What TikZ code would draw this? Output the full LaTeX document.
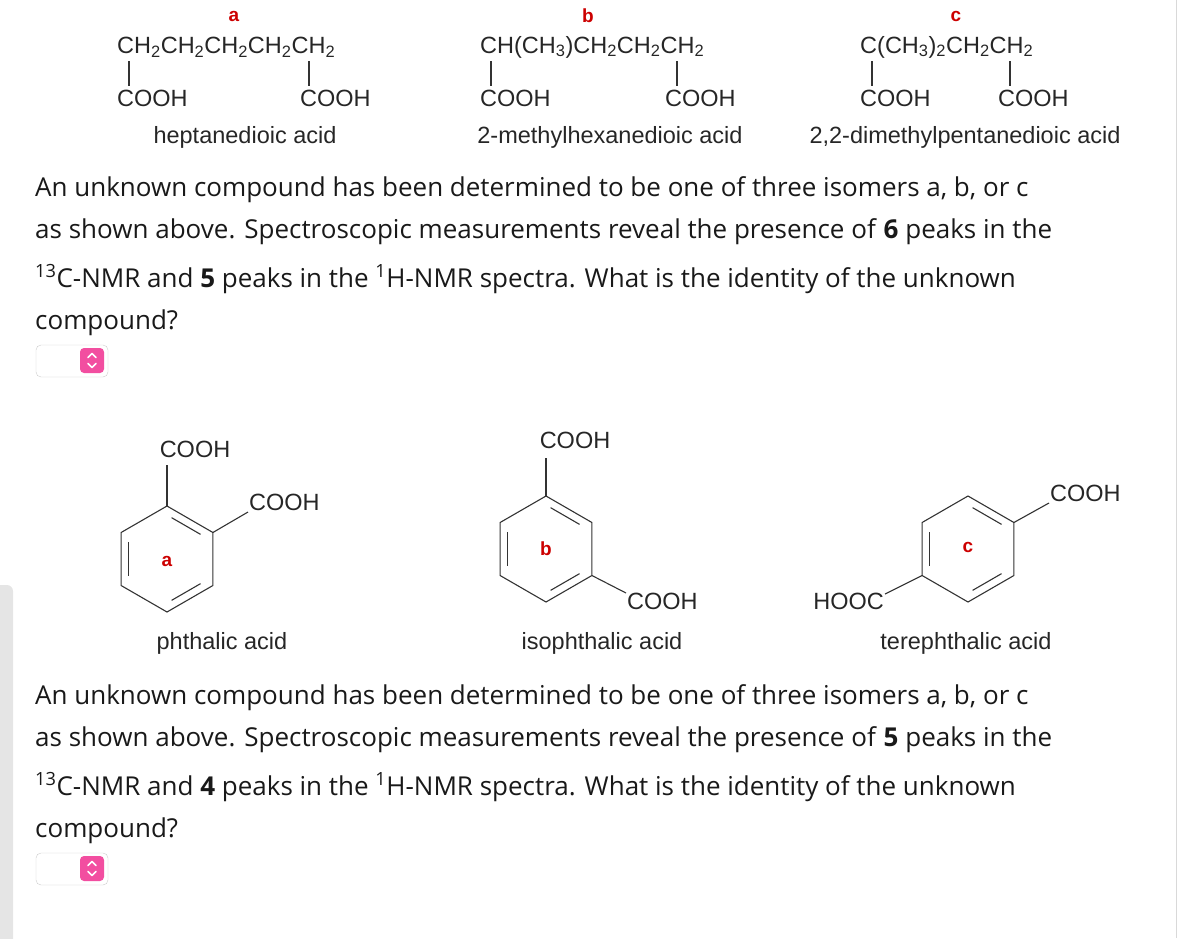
\documentclass[tikz,border=0pt]{standalone}
\usepackage{fontspec}
\usetikzlibrary{calc}
\setmainfont{Open Sans}
\newfontfamily\arial{Liberation Sans}
\begin{document}
\begin{tikzpicture}[x=1pt,y=-1pt,
  chem/.style={font=\arial\fontsize{23.5}{26}\selectfont,inner sep=0pt,text=black!85},
  lab/.style={font=\arial\bfseries\fontsize{19}{20}\selectfont,text=red!80!black,inner sep=0pt},
  body/.style={font=\fontsize{26}{30}\selectfont,inner sep=0pt,anchor=base west,text=black!90},
  bond/.style={draw=black!80,line width=1.1pt},
  btn/.style={fill=magenta!60!pink,rounded corners=4pt,minimum width=24pt,minimum height=25pt,inner sep=0pt},
  chev/.style={draw=white,line width=1.6pt,line cap=round,line join=round}]
\useasboundingbox (0,0) rectangle (1178,938);
\fill[black!10,rounded corners=6pt] (-10,585) rectangle (13,948);
\draw[black!15,line width=1pt] (1176.5,0) -- (1176.5,938);
% top row
\node[lab] (la) at (234,16) {a};
\node[lab] (lb) at (588,16) {b};
\node[lab] (lc) at (956,16) {c};
\node[chem,anchor=west] (ca) at (117,47) {CH\textsubscript{2}CH\textsubscript{2}CH\textsubscript{2}CH\textsubscript{2}CH\textsubscript{2}};
\node[chem,anchor=west] (a1) at (117,98) {COOH};
\node[chem,anchor=west] (a2) at (300,98) {COOH};
\coordinate (a1t) at (129,61); \coordinate (a1b) at (129,86);
\coordinate (a2t) at (309,61); \coordinate (a2b) at (309,86);
\draw[bond] (a1t)--(a1b); \draw[bond] (a2t)--(a2b);
\node[chem] (na) at (245,137) {heptanedioic acid};
\node[chem,anchor=west] (cb) at (480,47) {CH(CH\textsubscript{3})CH\textsubscript{2}CH\textsubscript{2}CH\textsubscript{2}};
\node[chem,anchor=west] (b1) at (480,98) {COOH};
\node[chem,anchor=west] (b2) at (665,98) {COOH};
\coordinate (b1t) at (491,61); \coordinate (b1b) at (491,86);
\coordinate (b2t) at (677,61); \coordinate (b2b) at (677,86);
\draw[bond] (b1t)--(b1b); \draw[bond] (b2t)--(b2b);
\node[chem] (nb) at (610,137) {2-methylhexanedioic acid};
\node[chem,anchor=west] (cc) at (860,47) {C(CH\textsubscript{3})\textsubscript{2}CH\textsubscript{2}CH\textsubscript{2}};
\node[chem,anchor=west] (c1) at (860,98) {COOH};
\node[chem,anchor=west] (c2) at (998,98) {COOH};
\coordinate (c1t) at (872,61); \coordinate (c1b) at (872,86);
\coordinate (c2t) at (1010,61); \coordinate (c2b) at (1010,86);
\draw[bond] (c1t)--(c1b); \draw[bond] (c2t)--(c2b);
\node[chem] (nc) at (965,137) {2,2-dimethylpentanedioic acid};
% paragraph 1
\node[body] (p1) at (35,196) {An unknown compound has been determined to be one of three isomers a, b, or c};
\node[body] (p2) at (35,238) {as shown above. Spectroscopic measurements reveal the presence of \textbf{6} peaks in the};
\node[body] (p3) at (35,287) {\textsuperscript{13}C-NMR and \textbf{5} peaks in the \textsuperscript{1}H-NMR spectra. What is the identity of the unknown};
\node[body] (p4) at (35,329) {compound?};
\draw[black!20,fill=white,rounded corners=5pt] (36,345) rectangle (108,377);
\node[btn] (s1) at (92,360.5) {};
\draw[chev] ($(s1)+(-4,-3)$)--($(s1)+(0,-7)$)--($(s1)+(4,-3)$);
\draw[chev] ($(s1)+(-4,3)$)--($(s1)+(0,7)$)--($(s1)+(4,3)$);
% benzene rings
\foreach \n/\cx/\cy in {A/167/559,B/546/549,C/968/549}{
  \foreach \i/\ang in {1/90,2/30,3/-30,4/-90,5/-150,6/150}{
    \coordinate (\n\i) at ($(\cx,\cy)+({53*cos(\ang)},{-53*sin(\ang)})$);
    \coordinate (\n\i i) at ($(\cx,\cy)+({44*cos(\ang)},{-44*sin(\ang)})$);
  }
  \draw[bond,line join=miter] (\n1)--(\n2)--(\n3)--(\n4)--(\n5)--(\n6)--cycle;
  \draw[bond] ($(\n1i)!0.12!(\n2i)$)--($(\n1i)!0.88!(\n2i)$);
  \draw[bond] ($(\n3i)!0.12!(\n4i)$)--($(\n3i)!0.88!(\n4i)$);
  \draw[bond] ($(\n5i)!0.12!(\n6i)$)--($(\n5i)!0.88!(\n6i)$);
}
\node[lab] (ra) at (167,561) {a};
\node[lab] (rb) at (546,549) {b};
\node[lab] (rc) at (968,547) {c};
\node[chem] (ta) at (195,449) {COOH};
\coordinate (ta1) at (167,465); \draw[bond] (A1)--(ta1);
\node[chem,anchor=west] (ta2) at (249,502) {COOH};
\coordinate (ta3) at (248,512); \draw[bond] (A2)--(ta3);
\node[chem] (tb) at (575,440) {COOH};
\coordinate (tb1) at (546,458); \draw[bond] (B1)--(tb1);
\node[chem,anchor=west] (tb2) at (627,601) {COOH};
\coordinate (tb3) at (626,593); \draw[bond] (B3)--(tb3);
\node[chem,anchor=west] (tc) at (1050,493) {COOH};
\coordinate (tc1) at (1049,503); \draw[bond] (C2)--(tc1);
\node[chem,anchor=east] (tc2) at (884,601) {HOOC};
\coordinate (tc3) at (885,594); \draw[bond] (C5)--(tc3);
\node[chem] (nA) at (222,643) {phthalic acid};
\node[chem] (nB) at (602,643) {isophthalic acid};
\node[chem] (nC) at (966,643) {terephthalic acid};
% paragraph 2
\node[body] (q1) at (35,704) {An unknown compound has been determined to be one of three isomers a, b, or c};
\node[body] (q2) at (35,746) {as shown above. Spectroscopic measurements reveal the presence of \textbf{5} peaks in the};
\node[body] (q3) at (35,795) {\textsuperscript{13}C-NMR and \textbf{4} peaks in the \textsuperscript{1}H-NMR spectra. What is the identity of the unknown};
\node[body] (q4) at (35,837) {compound?};
\draw[black!20,fill=white,rounded corners=5pt] (36,853) rectangle (108,885);
\node[btn] (s2) at (92,868.5) {};
\draw[chev] ($(s2)+(-4,-3)$)--($(s2)+(0,-7)$)--($(s2)+(4,-3)$);
\draw[chev] ($(s2)+(-4,3)$)--($(s2)+(0,7)$)--($(s2)+(4,3)$);
\end{tikzpicture}
\end{document}
